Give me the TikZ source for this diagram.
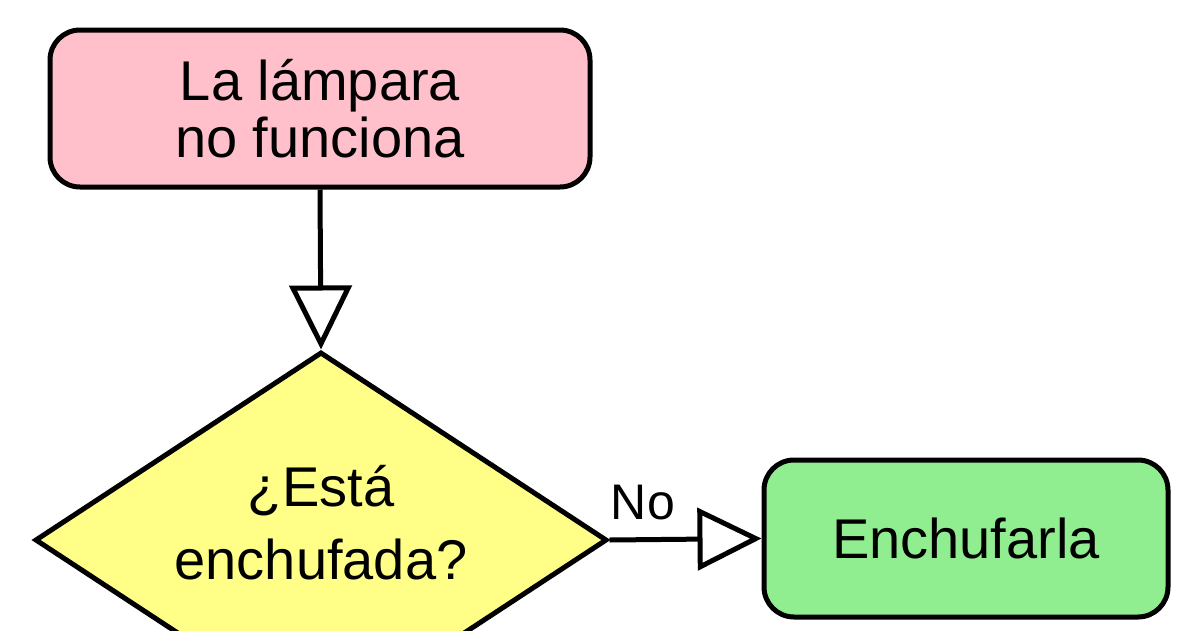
\documentclass[tikz,border=0pt]{standalone}
\usepackage{fontspec}
\setmainfont{Liberation Sans}
\usetikzlibrary{shapes.geometric,arrows.meta}
\begin{document}
\begin{tikzpicture}[x=1pt,y=-1pt,
  box/.style={draw,line width=5pt,rounded corners=30pt,inner sep=0pt},
  lbl/.style={font=\fontsize{56}{57}\selectfont,align=center},
  flow/.style={line width=5pt,-{Triangle[open,length=64pt,width=62pt,line width=5pt,fill=white]}}]
\useasboundingbox (0,0) rectangle (1200,630);
\clip (0,0) rectangle (1200,630);
\node[box,fill={rgb,255:red,255;green,192;blue,203},minimum width=540pt,minimum height=157pt] (start) at (320,108.5) {};
\node[lbl] at (start.center) {La lámpara\\no funciona};
\node[draw,diamond,line width=5pt,fill={rgb,255:red,255;green,255;blue,136},minimum width=572pt,minimum height=376pt,inner sep=0pt] (q) at (321,540) {};
\node[lbl,font=\fontsize{56}{73}\selectfont] at (321,523) {¿Está\\enchufada?};
\node[box,fill={rgb,255:red,144;green,238;blue,144},minimum width=404pt,minimum height=157pt] (fix) at (966,538.5) {};
\node[lbl] at (fix.center) {Enchufarla};
\draw[flow] (start.south) -- (q.north);
\draw[flow] (q.east) -- (fix.west) node[pos=0.22,above=14pt,lbl,font=\fontsize{50}{50}\selectfont] {No};
\end{tikzpicture}
\end{document}
